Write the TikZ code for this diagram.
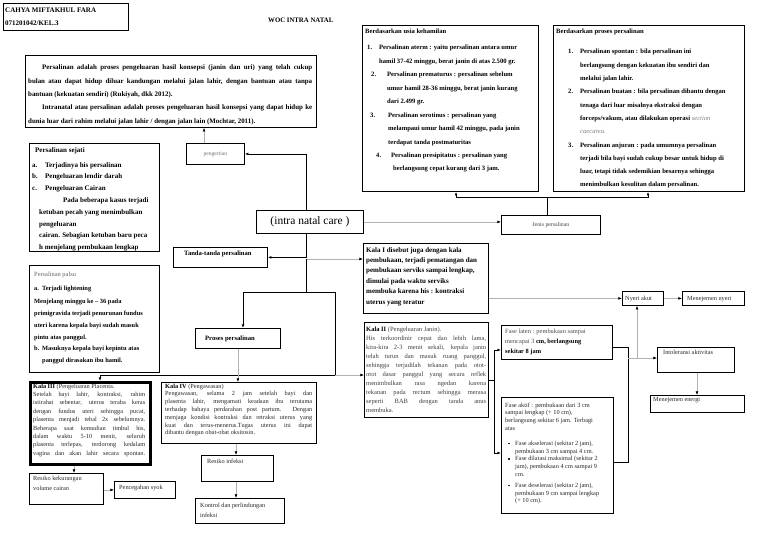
\documentclass[tikz,border=0pt]{standalone}
\usepackage{fontspec}
\setmainfont{Liberation Serif}
\usetikzlibrary{arrows.meta}
\newcommand\JL[1]{\hbox to\hsize{#1}}
\newcommand\LN[1]{\hbox{#1}}
\newcommand\blk[2]{\vtop{\hsize=#1\relax #2}}
\newcommand\fs[2]{\fontsize{#1}{#2}\selectfont}
\newcommand\sq{\raisebox{0.7pt}{\rule{1.8pt}{1.8pt}}}
\tikzset{
  bx/.style={draw, line width=0.8pt, inner sep=0pt, anchor=north west},
  tx/.style={anchor=base west, inner sep=0pt},
  ct/.style={anchor=center, inner sep=0pt},
  dk/.style={line width=0.8pt, draw=black},
  lt/.style={line width=0.6pt, draw=black!30},
  ar/.style={-{Latex[length=3.6pt,width=2.8pt,color=black]}},
}
\begin{document}
\begin{tikzpicture}[x=1pt,y=-1pt]
\useasboundingbox[fill=white] (0,0) rectangle (768,543);
% ---------- boxes ----------
\node[bx, minimum width=125pt, minimum height=27pt] (name) at (3,3) {};
\node[bx, minimum width=291pt, minimum height=72pt] (def) at (25,55) {};
\node[bx, minimum width=176pt, minimum height=166pt] (usia) at (362,25) {};
\node[bx, minimum width=191pt, minimum height=166pt] (jenisproses) at (553,25) {};
\node[bx, minimum width=58pt, minimum height=21pt] (pengertian) at (186,143) {};
\node[bx, minimum width=107pt, minimum height=23pt] (intra) at (256,210) {};
\node[bx, minimum width=99pt, minimum height=19pt] (jenis) at (501,215) {};
\node[bx, minimum width=130pt, minimum height=108pt] (sejati) at (29,143) {};
\node[bx, minimum width=94pt, minimum height=20pt] (tanda) at (173,247) {};
\node[bx, minimum width=130pt, minimum height=107pt] (palsu) at (29,265) {};
\node[bx, minimum width=125pt, minimum height=70pt] (kala1) at (363,243) {};
\node[bx, minimum width=41pt, minimum height=14pt] (nyeri) at (622,291) {};
\node[bx, minimum width=62pt, minimum height=14pt] (menyeri) at (682,291) {};
\node[bx, minimum width=85pt, minimum height=20pt] (proses) at (195,328) {};
\node[bx, minimum width=124pt, minimum height=95pt] (kala2) at (364,322) {};
\node[bx, minimum width=111pt, minimum height=34pt, line width=1pt] (faselaten) at (501,325) {};
\node[bx, minimum width=77pt, minimum height=25pt] (intol) at (657,347) {};
\node[bx, minimum width=94pt, minimum height=17pt] (menergi) at (650,395) {};
\node[bx, minimum width=112pt, minimum height=116pt, line width=1pt] (faseaktif) at (501,397) {};
\node[bx, minimum width=121pt, minimum height=83pt, line width=1.6pt] (kala3) at (29,381) {};
\draw[line width=0.7pt] ([shift={(2.5,2.5)}]kala3.north west) rectangle ([shift={(-2.5,-2.5)}]kala3.south east);
\node[bx, minimum width=155pt, minimum height=61pt, line width=1.1pt] (kala4) at (161,382) {};
\node[bx, minimum width=74pt, minimum height=31pt] (rc) at (29,473) {};
\node[bx, minimum width=61pt, minimum height=17pt] (pc) at (114,481) {};
\node[bx, minimum width=72pt, minimum height=26pt] (ri) at (201,455) {};
\node[bx, minimum width=89pt, minimum height=25pt] (kontrol) at (195,498) {};
% ---------- texts ----------
\node[tx, font=\bfseries\fs{7}{13}] (nameT) at (5,12.5) {\blk{120pt}{\LN{CAHYA MIFTAKHUL FARA}\LN{071201042/KEL.3}}};
\node[tx, font=\bfseries\fs{6.8}{8}] (woc) at (268,22.5) {WOC INTRA NATAL};
\node[tx, font=\bfseries\fs{6.9}{13.3}] (defT) at (28,70) {\blk{284pt}{%
\JL{\hspace*{14pt}Persalinan adalah proses pengeluaran hasil konsepsi (janin dan uri) yang telah cukup}
\JL{bulan atau dapat hidup diluar kandungan melalui jalan lahir, dengan bantuan atau tanpa}
\LN{bantuan (kekuatan sendiri) (Rukiyah, dkk 2012).}
\JL{\hspace*{14pt}Intranatal atau persalinan adalah proses pengeluaran hasil konsepsi yang dapat hidup ke}
\LN{dunia luar dari rahim melalui jalan lahir / dengan jalan lain (Mochtar, 2011).}}};
\node[tx, font=\bfseries\fs{6.6}{13.45}] (usiaT) at (365,34) {\blk{175pt}{%
\LN{Berdasarkan usia kehamilan}\vskip2.5pt
\LN{\hspace*{2pt}\makebox[12pt][l]{1.}Persalinan aterm : yaitu persalinan antara umur}
\LN{\hspace*{14pt}hamil 37-42 minggu, berat janin di atas 2.500 gr.}
\LN{\hspace*{6pt}\makebox[16pt][l]{2.}Persalinan prematurus : persalinan sebelum}
\LN{\hspace*{22pt}umur hamil 28-36 minggu, berat janin kurang}
\LN{\hspace*{22pt}dari 2.499 gr.}
\LN{\hspace*{5pt}\makebox[18pt][l]{3.}Persalinan serotinus : persalinan yang}
\LN{\hspace*{23pt}melampaui umur hamil 42 minggu, pada janin}
\LN{\hspace*{23pt}terdapat tanda postmaturitas}
\LN{\hspace*{11pt}\makebox[15pt][l]{4.}Persalinan presipitatus : persalinan yang}
\LN{\hspace*{28pt}berlangsung cepat kurang dari 3 jam.}}};
\node[tx, font=\bfseries\fs{6.6}{13.3}] (jenisprosesT) at (556,34) {\blk{185pt}{%
\LN{Berdasarkan proses persalinan}\vskip6.7pt
\LN{\hspace*{12pt}\makebox[12pt][l]{1.}Persalinan spontan : bila persalinan ini}
\LN{\hspace*{24pt}berlangsung dengan kekuatan ibu sendiri dan}
\LN{\hspace*{24pt}melalui jalan lahir.}
\LN{\hspace*{12pt}\makebox[12pt][l]{2.}Persalinan buatan : bila persalinan dibantu dengan}
\LN{\hspace*{24pt}tenaga dari luar misalnya ekstraksi dengan}
\LN{\hspace*{24pt}forceps/vakum, atau dilakukan operasi {\mdseries\itshape\color{black!50}section}}
\LN{\hspace*{24pt}{\mdseries\itshape\color{black!50}caecarea.}}
\LN{\hspace*{12pt}\makebox[12pt][l]{3.}Persalinan anjuran : pada umumnya persalinan}
\LN{\hspace*{24pt}terjadi bila bayi sudah cukup besar untuk hidup di}
\LN{\hspace*{24pt}luar, tetapi tidak sedemikian besarnya sehingga}
\LN{\hspace*{24pt}menimbulkan kesulitan dalam persalinan.}}};
\node[ct, font=\fs{5.6}{7}, text=black!55] (pengertianT) at (pengertian.center) {pengertian};
\node[ct, font=\fs{11.5}{13}] (intraT) at (intra.center) {(intra natal care )};
\node[ct, font=\fs{5.8}{7}, text=black!75] (jenisT) at (jenis.center) {Jenis persalinan};
\node[tx, font=\bfseries\fs{7}{11.8}] (sejatiT) at (32,152) {\blk{125pt}{%
\LN{\hspace*{3pt}Persalinan sejati}\vskip3.2pt
\LN{\makebox[13pt][l]{a.}Terjadinya his persalinan}
\LN{\makebox[13pt][l]{b.}Pengeluaran lendir darah}
\LN{\makebox[13pt][l]{c.}Pengeluaran Cairan}
\LN{\hspace*{31pt}Pada beberapa kasus terjadi}
\LN{\hspace*{7pt}ketuban pecah yang menimbulkan}
\LN{\hspace*{7pt}pengeluaran}
\LN{\hspace*{7pt}cairan. Sebagian ketuban baru peca}
\LN{\hspace*{7pt}h menjelang pembukaan lengkap}}};
\node[tx, font=\bfseries\fs{6.6}{8}] (tandaT) at (184,255) {Tanda-tanda persalinan};
\node[tx, font=\bfseries\fs{6.4}{11.8}] (palsuT) at (34,276) {\blk{125pt}{%
\LN{\mdseries\color{black!60}Persalinan palsu}\vskip3pt
\LN{\makebox[8pt][l]{a.}Terjadi lightening}\vskip1pt
\LN{Menjelang minggu ke – 36 pada}
\LN{primigravida terjadi penurunan fundus}
\LN{uteri karena kepala bayi sudah masuk}
\LN{pintu atas panggul.}
\LN{\makebox[8pt][l]{b.}Masuknya kepala bayi kepintu atas}
\LN{\hspace*{8pt}panggul dirasakan ibu hamil.}}};
\node[tx, font=\bfseries\fs{7}{10.4}] (kala1T) at (366,252) {\blk{120pt}{%
\LN{Kala I disebut juga dengan kala}
\LN{pembukaan, terjadi pematangan dan}
\LN{pembukaan serviks sampai lengkap,}
\LN{dimulai pada waktu serviks}
\LN{membuka karena his : kontraksi}
\LN{uterus yang teratur}}};
\node[tx, font=\bfseries\fs{6.6}{8}] (prosesT) at (205,340.5) {Proses persalinan};
\node[tx, font=\fs{6.5}{9}, text=black!75] (kala2T) at (366,331) {\blk{120pt}{%
\LN{{\color{black}\bfseries Kala II} (Pengeluaran Janin).}
\JL{His terkoordinir cepat dan lebih lama,}
\JL{kira-kira 2-3 menit sekali, kepala janin}
\JL{telah turun dan masuk ruang panggul,}
\JL{sehingga terjadilah tekanan pada otot-}
\JL{otot dasar panggul yang secara reflek}
\JL{menimbulkan rasa ngedan karena}
\JL{tekanan pada rectum sehingga merasa}
\JL{seperti BAB dengan tanda anus}
\LN{membuka.}}};
\node[tx, font=\fs{6.4}{10}, text=black!70] (faselatenT) at (505,333) {\blk{105pt}{%
\LN{Fase laten : pembukaan sampai}
\LN{mencapai 3 {\color{black}\bfseries cm, berlangsung}}
\LN{\color{black}\bfseries sekitar 8 jam}}};
\node[tx, font=\fs{6.3}{7.9}, text=black!85] (faseaktifT) at (505,407) {\blk{106pt}{%
\LN{Fase aktif : pembukaan dari 3 cm}
\LN{sampai lengkap (+ 10 cm),}
\LN{berlangsung sekitar 6 jam. Terbagi}
\LN{atas}\vskip6.5pt
\LN{\hspace*{3pt}\makebox[7pt][l]{\sq}Fase akselerasi (sekitar 2 jam),}
\LN{\hspace*{10pt}pembukaan 3 cm sampai 4 cm.}
\LN{\hspace*{3pt}\makebox[7pt][l]{\sq}Fase dilatasi maksimal (sekitar 2}
\LN{\hspace*{10pt}jam), pembukaan 4 cm sampai 9}
\LN{\hspace*{10pt}cm.}\vskip2.5pt
\LN{\hspace*{3pt}\makebox[7pt][l]{\sq}Fase deselerasi (sekitar 2 jam),}
\LN{\hspace*{10pt}pembukaan 9 cm sampai lengkap}
\LN{\hspace*{10pt}(+ 10 cm).}}};
\node[tx, font=\fs{6.3}{8.4}, text=black!85] (kala3T) at (33,388) {\blk{112pt}{%
\LN{{\color{black}\bfseries Kala III} (Pengeluaran Placenta.}
\JL{Setelah bayi lahir, kontraksi, rahim}
\JL{istirahat sebentar, uterus teraba keras}
\JL{dengan fundus uteri sehingga pucat,}
\JL{plasenta menjadi tebal 2x sebelumnya.}
\JL{Beberapa saat kemudian timbul his,}
\JL{dalam waktu 5-10 menit, seluruh}
\JL{plasenta terlepas, terdorong kedalam}
\JL{vagina dan akan lahir secara spontan.}}};
\node[tx, font=\fs{6.3}{7.8}, text=black!85] (kala4T) at (165,388) {\blk{147pt}{%
\LN{{\color{black}\bfseries Kala IV} (Pengawasan)}
\JL{Pengawasan, selama 2 jam setelah bayi dan}
\JL{plasenta lahir, mengamati keadaan ibu terutama}
\JL{terhadap bahaya perdarahan post partum. Dengan}
\JL{menjaga kondisi kontraksi dan retraksi uterus yang}
\JL{kuat dan terus-menerus.Tugas uterus ini dapat}
\LN{dibantu dengan obat-obat oksitosin.}}};
\node[tx, font=\fs{6.3}{10.5}, text=black!85] (rcT) at (33,480) {\blk{70pt}{\LN{Resiko kekurangan}\LN{volume cairan}}};
\node[tx, font=\fs{6.3}{8}, text=black!85] (pcT) at (119,489) {Pencegahan syok};
\node[tx, font=\fs{6.3}{8}, text=black!85] (riT) at (207,463) {Resiko infeksi};
\node[tx, font=\fs{6.3}{10.5}, text=black!85] (kontrolT) at (200,507) {\blk{85pt}{\LN{Kontrol dan perlindungan}\LN{infeksi}}};
\node[tx, font=\fs{6.3}{8}, text=black!85] (intolT) at (663,354) {Intoleransi aktivitas};
\node[tx, font=\fs{6.3}{8}, text=black!85] (menergiT) at (653,401) {Menejemen energi};
\node[tx, font=\fs{6.3}{8}, text=black!85] (nyeriT) at (625,300) {Nyeri akut};
\node[tx, font=\fs{6.3}{8}, text=black!85] (menyeriT) at (687,300) {Menejemen nyeri};
% ---------- connectors ----------
\coordinate (cx) at (306,0);
\coordinate (px) at (204,0);
\draw[lt,ar] (px |- pengertian.north) -- (px |- def.south);
\draw[dk,ar] (intra.north -| cx) |- (pengertian.east);
\draw[dk,ar] (intra.south -| cx) |- (tanda.east);
\coordinate (j1) at (306,259);
\coordinate (j2) at (306,292);
\coordinate (j3) at (243,292);
\coordinate (j4) at (335,292);
\coordinate (j5) at (335,375);
\coordinate (j6) at (100,375);
\draw[lt,ar] (j1) -- (j1 -| kala1.west);
\draw[dk] (j1) -- (j2);
\draw[dk] (j3) -- (j4) -- (j5) -- (j6);
\draw[dk,ar] (j3) -- (j3 |- proses.north);
\draw[dk,ar] (j6) -- (j6 |- kala3.north);
\draw[lt,ar] (j5) -- (j5 -| kala2.west);
\draw[lt,ar] (proses.south) -- (proses.south |- kala4.north);
\draw[lt,ar] (intra.east) -- (intra.east -| jenis.west);
\coordinate (jt) at (547,197);
\coordinate (ua) at (456,0);
\coordinate (pa) at (648,0);
\draw[dk] (jenis.north -| jt) -- (jt);
\draw[dk,ar] (jt) -| (ua |- usia.south);
\draw[dk,ar] (jt) -| (pa |- jenisproses.south);
\coordinate (k3x) at (74,0);
\draw[lt,ar] (k3x |- kala3.south) -- (k3x |- rc.north);
\draw[lt,ar] (rc.east |- pc.west) -- (pc.west);
\coordinate (k4x) at (236,0);
\draw[lt,ar] (k4x |- kala4.south) -- (k4x |- ri.north);
\draw[lt,ar] (k4x |- ri.south) -- (k4x |- kontrol.north);
\draw[lt,ar] (kala1.east |- nyeri.west) -- (nyeri.west);
\draw[lt,ar] (nyeri.east) -- (menyeri.west);
\coordinate (b1) at (494,380);
\coordinate (b2) at (494,350);
\coordinate (b3) at (494,453);
\draw[dk] (b1 -| kala2.east) -- (b1);
\draw[dk] (b2) -- (b3);
\draw[dk,ar] (b2) -- (b2 -| faselaten.west);
\draw[dk,ar] (b3) -- (b3 -| faseaktif.west);
\coordinate (r1) at (628,347);
\coordinate (r2) at (628,462);
\draw[dk] (r1 -| faselaten.east) -- (r1) -- (r2) -- (r2 -| faseaktif.east);
\coordinate (r3) at (628,358);
\coordinate (r4) at (637,358);
\draw[lt,ar] (r3) -- (r3 -| intol.west);
\draw[lt,ar] (r4) -- (r4 |- nyeri.south);
\coordinate (ix) at (697,0);
\draw[lt,ar] (ix |- intol.south) -- (ix |- menergi.north);
\end{tikzpicture}
\end{document}
